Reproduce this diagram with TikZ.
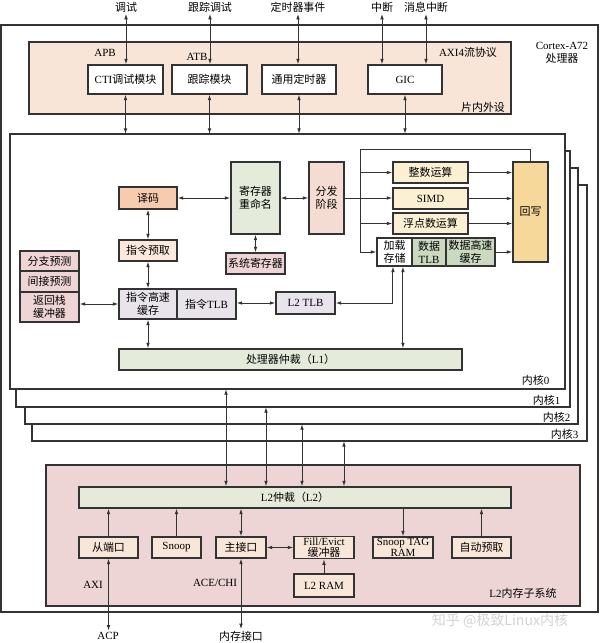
\documentclass[tikz,border=0pt]{standalone}
\usepackage{fontspec}
\setmainfont{Liberation Serif}
\newfontfamily\cjk{Noto Sans CJK SC}
\usetikzlibrary{arrows.meta, positioning, calc}
\newcommand{\zh}[1]{{\cjk #1}}
\newcommand{\armfont}{\fontsize{7.8}{9.3}\selectfont}
\definecolor{armLine}{HTML}{333333}
\definecolor{periFill}{HTML}{F8E5D8}
\definecolor{l2Fill}{HTML}{EDD5D6}
\definecolor{decFill}{HTML}{F7CBAE}
\definecolor{fetFill}{HTML}{FBE9DC}
\definecolor{arbFill}{HTML}{E4EBDB}
\definecolor{pinkFill}{HTML}{EED4D4}
\definecolor{dispFill}{HTML}{F5DCD3}
\definecolor{exeFill}{HTML}{FBF0D2}
\definecolor{wbFill}{HTML}{F6D99A}
\definecolor{dataFill}{HTML}{CBD9C0}
\definecolor{icFill}{HTML}{E9E3EB}
\definecolor{portFill}{HTML}{F8E6D8}
\tikzset{
  frame/.style   = {draw=armLine, line width=0.8pt},
  blk/.style     = {draw=armLine, line width=0.8pt, inner sep=1pt, align=center, font=\armfont},
  wh/.style 2 args = {minimum width=#1*0.7113pt, minimum height=#2*0.7113pt},
  lbl/.style     = {font=\armfont, inner sep=1pt, align=center},
  conn/.style    = {draw=armLine, line width=0.7pt},
  sgl/.style     = {conn, -{Latex[length=4pt, width=2.6pt]}},
  dbl/.style     = {conn, {Latex[length=4pt, width=2.6pt]}-{Latex[length=4pt, width=2.6pt]}},
}
\begin{document}
\begin{tikzpicture}[x=0.025cm, y=-0.025cm]
  \useasboundingbox (0,0) rectangle (600,643);
  % processor outline
  \draw[frame] (1,25) rectangle (598,612);
  \node[lbl] (cpu) at (562,53) {Cortex-A72\\\zh{处理器}};

  % on-chip peripherals
  \draw[frame, fill=periFill] (29,42) rectangle (511,114);
  \node[lbl] (apb) at (105,53) {APB};
  \node[lbl] (atb) at (197,57) {ATB};
  \node[lbl] (axi4) at (468,52) {AXI4\zh{流协议}};
  \node[lbl] (peri) at (483,107) {\zh{片内外设}};
  \node[blk, wh={75}{29}, fill=white] (cti)   at (125.5,79.5) {CTI\zh{调试模块}};
  \node[blk, wh={75}{29}, fill=white] (trace) at (209.5,79.5) {\zh{跟踪模块}};
  \node[blk, wh={74}{29}, fill=white] (timer) at (299,79.5)   {\zh{通用定时器}};
  \node[blk, wh={74}{29}, fill=white] (gic)   at (405,79.5)   {GIC};

  \node[lbl] (tDbg)   at (126,7) {\zh{调试}};
  \node[lbl] (tTrace) at (210,7) {\zh{跟踪调试}};
  \node[lbl] (tTimer) at (298,7) {\zh{定时器事件}};
  \node[lbl] (tIrq)   at (382,7) {\zh{中断}};
  \node[lbl] (tMsi)   at (426,7) {\zh{消息中断}};
  \draw[dbl] (tDbg.south)   -- (tDbg.south |- cti.north);
  \draw[dbl] (tTrace.south) -- (tTrace.south |- trace.north);
  \draw[dbl] (tTimer.south) -- (tTimer.south |- timer.north);
  \draw[dbl] (tIrq.south)   -- (tIrq.south |- gic.north);
  \draw[dbl] (tMsi.south)   -- (tMsi.south |- gic.north);

  % cores
  \foreach \i/\l/\t/\r/\b/\lx/\ly in {3/32/185/587/441/580/434, 2/25/168/578/424/572/417,
                                     1/16/151/570/407/562/400, 0/10/134/565/389/551/380} {
    \draw[frame, fill=white] (\l,\t) rectangle (\r,\b);
    \node[lbl, anchor=east] (core\i) at (\lx,\ly) {\zh{内核}\i};
  }
  \coordinate (c0top) at (0,134);
  \draw[dbl] (cti.south)   -- (cti.south |- c0top);
  \draw[dbl] (trace.south) -- (trace.south |- c0top);
  \draw[dbl] (timer.south) -- (timer.south |- c0top);
  \draw[dbl] (gic.south)   -- (gic.south |- c0top);

  % front end
  \node[blk, wh={58}{22}, fill=decFill]  (dec)    at (148,198)     {\zh{译码}};
  \node[blk, wh={58}{21}, fill=fetFill]  (fetch)  at (148,250.5)   {\zh{指令预取}};
  \node[blk, wh={49}{72}, fill=arbFill]  (ren)    at (255.5,198)   {\zh{寄存器}\\\zh{重命名}};
  \node[blk, wh={59}{21}, fill=pinkFill] (sysreg) at (255.5,263.5) {\zh{系统寄存器}};
  \node[blk, wh={35}{72}, fill=dispFill] (disp)   at (326.5,198)   {\zh{分发}\\\zh{阶段}};
  \node[blk, wh={59}{20}, fill=pinkFill] (bp)     at (49.5,261)    {\zh{分支预测}};
  \node[blk, wh={59}{21}, fill=pinkFill] (ip)     at (49.5,281.5)  {\zh{间接预测}};
  \node[blk, wh={59}{30}, fill=pinkFill] (rsb)    at (49.5,307)    {\zh{返回栈}\\\zh{缓冲器}};
  \node[blk, wh={58}{30}, fill=icFill]   (ic)     at (148,304)     {\zh{指令高速}\\\zh{缓存}};
  \node[blk, wh={59}{30}, fill=icFill]   (itlb)   at (206.5,304)   {\zh{指令}TLB};
  \node[blk, wh={59}{22}, fill=icFill]   (l2tlb)  at (305.5,303)   {L2 TLB};
  \node[blk, wh={343}{21}, fill=arbFill] (l1arb)  at (290.5,359.5) {\zh{处理器仲裁（}L1\zh{）}};

  % execution
  \node[blk, wh={75}{21}, fill=exeFill]  (int)  at (430.5,172.5) {\zh{整数运算}};
  \node[blk, wh={75}{21}, fill=exeFill]  (simd) at (430.5,198.5) {SIMD};
  \node[blk, wh={75}{21}, fill=exeFill]  (fp)   at (430.5,223.5) {\zh{浮点数运算}};
  \node[blk, wh={35}{100}, fill=wbFill]  (wb)   at (530.5,212)   {\zh{回写}};
  \node[blk, wh={35}{28}, fill=white]    (ls)   at (394.5,252)   {\zh{加载}\\\zh{存储}};
  \node[blk, wh={34}{28}, fill=dataFill] (dtlb) at (429,252)     {\zh{数据}\\TLB};
  \node[blk, wh={49}{28}, fill=dataFill] (dc)   at (470.5,252)   {\zh{数据高速}\\\zh{缓存}};

  \draw[dbl] (dec.east) -- (ren.west);
  \draw[dbl] (ren.east) -- (disp.west);
  \draw[dbl] (dec.south) -- (fetch.north);
  \draw[dbl] (ren.south) -- (sysreg.north);
  \draw[dbl] (fetch.south) -- (ic.north);
  \draw[dbl] (ic.west) -- (ic.west -| rsb.east);
  \draw[dbl] (l2tlb.west) -- (l2tlb.west -| itlb.east);
  \draw[dbl] (ic.south) -- (ic.south |- l1arb.north);
  \draw[dbl] (l2tlb.east) -| ([xshift=-1.1pt]ls.south);
  \draw[dbl] ([xshift=6pt]ls.south) -- ([xshift=6pt]ls.south |- l1arb.north);

  \coordinate (bus) at (360,149);
  \draw[conn] (bus) -| (wb.north);
  \draw[sgl] (disp.east) -- (disp.east -| simd.west);
  \draw[sgl] (bus) |- (ls.west);
  \draw[sgl] (bus |- int.west) -- (int.west);
  \draw[sgl] (bus |- fp.west) -- (fp.west);
  \draw[sgl] (int.east)  -- (int.east -| wb.west);
  \draw[sgl] (simd.east) -- (simd.east -| wb.west);
  \draw[sgl] (fp.east)   -- (fp.east -| wb.west);
  \draw[sgl] (dc.east)   -- (dc.east -| wb.west);

  % L2 memory system
  \draw[frame, fill=l2Fill] (46,465) rectangle (580,606);
  \node[blk, wh={432}{21}, fill=arbFill]  (l2arb) at (295,497.5)   {L2\zh{仲裁（}L2\zh{）}};
  \node[blk, wh={59}{21}, fill=portFill]  (sp)    at (108.5,547.5) {\zh{从端口}};
  \node[blk, wh={49}{21}, fill=portFill]  (snoop) at (176.5,547.5) {Snoop};
  \node[blk, wh={50}{21}, fill=portFill]  (mi)    at (241,547.5)   {\zh{主接口}};
  \node[blk, wh={60}{21}, fill=portFill]  (fe)    at (324,547.5)   {Fill/Evict\\[-1.5pt]\zh{缓冲器}};
  \node[blk, wh={60}{23}, fill=portFill]  (l2ram) at (324,585.5)   {L2 RAM};
  \node[blk, wh={60}{21}, fill=portFill]  (stag)  at (403,547.5)   {Snoop TAG\\[-1.5pt]RAM};
  \node[blk, wh={59}{21}, fill=portFill]  (apf)   at (481.5,547.5) {\zh{自动预取}};
  \node[lbl] (axi)   at (93,585)  {AXI};
  \node[lbl] (ace)   at (215,583) {ACE/CHI};
  \node[lbl] (l2sys) at (523,593) {L2\zh{内存子系统}};
  \node[lbl] (acp)   at (108,636) {ACP};
  \node[lbl] (mem)   at (241,636) {\zh{内存接口}};

  \draw[sgl] (sp.north) -- (sp.north |- l2arb.south);
  \draw[sgl] (snoop.north) -- (snoop.north |- l2arb.south);
  \draw[dbl] (mi.north) -- (mi.north |- l2arb.south);
  \draw[sgl] (stag.north |- l2arb.south) -- (stag.north);
  \draw[sgl] (apf.north) -- (apf.north |- l2arb.south);
  \draw[dbl] (mi.east) -- (fe.west);
  \draw[sgl] (l2ram.north) -- (fe.south);
  \draw[dbl] (sp.south) -- (sp.south |- acp.north);
  \draw[dbl] (mi.south) -- (mi.south |- mem.north);

  % cores to L2
  \foreach \cx/\cy [count=\k from 0] in {226/389, 266/407, 302/424, 344/441} {
    \coordinate (cb\k) at (\cx,\cy);
    \draw[dbl] (cb\k) -- (cb\k |- l2arb.north);
  }

  \node[font=\cjk\fontsize{10}{12}\selectfont, text=gray!35] (mark) at (500,621) {知乎 @极致Linux内核};
\end{tikzpicture}
\end{document}
